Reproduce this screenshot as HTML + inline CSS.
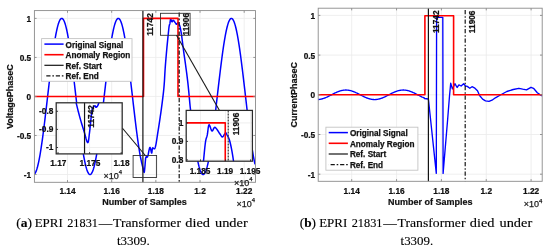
<!DOCTYPE html>
<html><head><meta charset="utf-8"><title>EPRI 21831</title>
<style>
html,body{margin:0;padding:0;background:#fff;}
body{width:550px;height:249px;overflow:hidden;position:relative;}
svg{position:absolute;left:0;top:0;}
.tk{font-family:"Liberation Sans",Arial,sans-serif;font-weight:bold;font-size:8.3px;fill:#111;stroke:#111;stroke-width:0.22px;}
.lg{font-family:"Liberation Sans",Arial,sans-serif;font-weight:bold;font-size:8.2px;fill:#111;stroke:#111;stroke-width:0.25px;}
.lb{font-family:"Liberation Sans",Arial,sans-serif;font-weight:bold;font-size:9px;fill:#111;stroke:#111;stroke-width:0.2px;}
.ex{font-family:"Liberation Sans",Arial,sans-serif;font-size:9px;fill:#1a1a1a;stroke:#1a1a1a;stroke-width:0.25px;}
.sup{font-size:6px;}
.cap{font-family:"Liberation Serif","Times New Roman",serif;font-size:12px;fill:#000;stroke:#000;stroke-width:0.12px;}
</style></head><body>
<svg width="550" height="249" viewBox="0 0 550 249">
<line x1="67.5" y1="10.6" x2="67.5" y2="182.3" stroke="#ebebeb" stroke-width="0.8" />
<line x1="111.68" y1="10.6" x2="111.68" y2="182.3" stroke="#ebebeb" stroke-width="0.8" />
<line x1="155.85" y1="10.6" x2="155.85" y2="182.3" stroke="#ebebeb" stroke-width="0.8" />
<line x1="200.03" y1="10.6" x2="200.03" y2="182.3" stroke="#ebebeb" stroke-width="0.8" />
<line x1="244.2" y1="10.6" x2="244.2" y2="182.3" stroke="#ebebeb" stroke-width="0.8" />
<line x1="34.4" y1="18.4" x2="255.5" y2="18.4" stroke="#ebebeb" stroke-width="0.8" />
<line x1="34.4" y1="57.43" x2="255.5" y2="57.43" stroke="#ebebeb" stroke-width="0.8" />
<line x1="34.4" y1="96.45" x2="255.5" y2="96.45" stroke="#ebebeb" stroke-width="0.8" />
<line x1="34.4" y1="135.47" x2="255.5" y2="135.47" stroke="#ebebeb" stroke-width="0.8" />
<line x1="34.4" y1="174.5" x2="255.5" y2="174.5" stroke="#ebebeb" stroke-width="0.8" />
<clipPath id="cl"><rect x="34.4" y="10.6" width="221.1" height="171.7"/></clipPath>
<g clip-path="url(#cl)">
<polyline points="34.37,174.12 34.81,173.66 35.25,173 35.69,172.16 36.14,171.14 36.58,169.94 37.02,168.56 37.46,167.01 37.9,165.28 38.34,163.4 38.79,161.35 39.23,159.14 39.67,156.78 40.11,154.28 40.55,151.64 40.99,148.87 41.44,145.96 41.88,142.94 42.32,139.81 42.76,136.58 43.2,133.24 43.64,129.82 44.09,126.32 44.53,122.74 44.97,119.11 45.41,115.41 45.85,111.68 46.3,107.9 46.74,104.1 47.18,100.28 47.62,96.45 48.06,92.62 48.5,88.8 48.95,85 49.39,81.22 49.83,77.49 50.27,73.79 50.71,70.16 51.15,66.58 51.6,63.08 52.04,59.66 52.48,56.32 52.92,53.09 53.36,49.96 53.81,46.94 54.25,44.03 54.69,41.26 55.13,38.62 55.57,36.12 56.01,33.76 56.46,31.55 56.9,29.5 57.34,27.62 57.78,25.89 58.22,24.34 58.66,22.96 59.11,21.76 59.55,20.74 59.99,19.9 60.43,19.24 60.87,18.78 61.32,18.49 61.76,18.4 62.2,18.49 62.64,18.78 63.08,19.24 63.52,19.9 63.97,20.74 64.41,21.76 64.85,22.96 65.29,24.34 65.73,25.89 66.17,27.62 66.62,29.5 67.06,31.55 67.5,33.76 67.94,36.12 68.38,38.62 68.83,41.26 69.27,44.03 69.71,46.94 70.15,49.96 70.59,53.09 71.03,56.32 71.48,59.66 71.92,63.08 72.36,66.58 72.8,70.16 73.24,73.79 73.68,77.49 74.13,81.22 74.57,85 75.01,88.8 75.45,92.62 75.89,96.45 76.34,100.28 76.78,104.1 77.22,107.9 77.66,111.68 78.1,115.41 78.54,119.11 78.99,122.74 79.43,126.32 79.87,129.82 80.31,133.24 80.75,136.58 81.19,139.81 81.64,142.94 82.08,145.96 82.52,148.87 82.96,151.64 83.4,154.28 83.85,156.78 84.29,159.14 84.73,161.35 85.17,163.4 85.61,165.28 86.05,167.01 86.5,168.56 86.94,169.94 87.38,171.14 87.82,172.16 88.26,173 88.7,173.66 89.15,174.12 89.59,174.41 90.03,174.5 90.47,174.41 90.91,174.12 91.36,173.66 91.8,173 92.24,172.16 92.68,171.14 93.12,169.94 93.56,168.56 94.01,167.01 94.45,165.28 94.89,163.4 95.33,161.35 95.77,159.14 96.21,156.78 96.66,154.28 97.1,151.64 97.54,148.87 97.98,145.96 98.42,142.94 98.86,139.81 99.31,136.58 99.75,133.24 100.19,129.82 100.63,126.32 101.07,122.74 101.52,119.11 101.96,115.41 102.4,111.68 102.84,107.9 103.28,104.1 103.72,100.28 104.17,96.45 104.61,92.62 105.05,88.8 105.49,85 105.93,81.22 106.37,77.49 106.82,73.79 107.26,70.16 107.7,66.58 108.14,63.08 108.58,59.66 109.03,56.32 109.47,53.09 109.91,49.96 110.35,46.94 110.79,44.03 111.23,41.26 111.68,38.62 112.12,36.12 112.56,33.76 113,31.55 113.44,29.5 113.88,27.62 114.33,25.89 114.77,24.34 115.21,22.96 115.65,21.76 116.09,20.74 116.54,19.9 116.98,19.24 117.42,18.78 117.86,18.49 118.3,18.4 118.74,18.49 119.19,18.78 119.63,19.24 120.07,19.9 120.51,20.74 120.95,21.76 121.39,22.96 121.84,24.34 122.28,25.89 122.72,27.62 123.16,29.5 123.6,31.55 124.05,33.76 124.49,36.12 124.93,38.62 125.37,41.26 125.81,44.03 126.25,46.94 126.7,49.96 127.14,53.09 127.58,56.32 128.02,59.66 128.46,63.08 128.9,66.58 129.35,70.16 129.79,73.79 130.23,77.49 130.67,81.22 131.11,85 131.56,88.8 132,92.62 132.44,96.45 132.88,100.28 133.32,104.1 133.76,107.9 134.21,111.68 134.65,115.41 135.09,119.11 135.53,122.74 135.97,126.32 136.41,129.82 136.86,133.24 137.3,136.58 137.74,139.81 138.18,142.94 138.62,145.96 139.07,148.87 139.51,151.64 139.95,154.28 140.17,155.55 140.37,156.57 140.58,157.64 140.81,158.75 141.05,159.87 141.28,160.96 141.52,162.01 141.75,163.03 141.99,164.03 142.23,165.02 142.47,165.97 142.71,166.9 142.93,167.79 143.15,168.73 143.37,169.75 143.58,170.74 143.79,171.58 143.98,172.17 144.15,172.39 144.29,172.21 144.4,171.7 144.5,170.93 144.6,169.98 144.7,168.91 144.81,167.79 144.93,166.47 145.07,164.88 145.2,163.17 145.34,161.49 145.47,160.02 145.58,158.89 145.68,158.16 145.77,157.69 145.86,157.43 145.94,157.28 146.02,157.17 146.11,157.02 146.21,156.84 146.32,156.72 146.43,156.63 146.54,156.57 146.64,156.55 146.73,156.55 146.8,156.62 146.85,156.76 146.9,156.94 146.95,157.1 147.02,157.19 147.11,157.17 147.21,157.1 147.32,157.01 147.45,156.86 147.6,156.58 147.78,156.13 147.99,155.46 148.25,154.32 148.55,152.74 148.88,150.98 149.23,149.32 149.57,148.04 149.89,147.42 150.2,147.69 150.52,148.67 150.84,150.04 151.14,151.45 151.41,152.56 151.66,153.04 151.84,152.74 151.97,151.92 152.08,150.8 152.2,149.62 152.34,148.59 152.54,147.96 152.81,147.81 153.14,147.96 153.51,148.28 153.87,148.61 154.22,148.82 154.53,148.74 154.78,148.45 155,148.05 155.2,147.52 155.4,146.84 155.61,145.95 155.85,144.84 156.1,143.55 156.35,142.12 156.61,140.5 156.9,138.63 157.23,136.45 157.62,133.91 158.09,130.93 158.62,127.52 159.2,123.81 159.8,119.91 160.38,115.96 160.93,112.06 161.47,108.13 162.01,104.06 162.54,99.93 163.04,95.82 163.5,91.82 163.89,88.02 164.2,84.43 164.44,80.97 164.63,77.63 164.81,74.37 164.99,71.17 165.2,68 165.43,64.86 165.68,61.76 165.93,58.73 166.19,55.75 166.44,52.84 166.7,50.01 166.96,47.19 167.23,44.37 167.5,41.62 167.76,39.01 168,36.6 168.22,34.48 168.41,32.65 168.57,31.06 168.71,29.67 168.84,28.47 168.97,27.4 169.1,26.44 169.24,25.67 169.38,25.12 169.51,24.72 169.64,24.37 169.77,23.99 169.9,23.47 170.02,22.75 170.13,21.88 170.24,20.98 170.36,20.15 170.49,19.51 170.65,19.18 170.84,19.27 171.05,19.71 171.28,20.34 171.51,21 171.75,21.56 171.98,21.83 172.19,21.77 172.39,21.46 172.58,21.04 172.79,20.63 173.03,20.33 173.3,20.27 173.63,20.51 174.01,20.94 174.42,21.5 174.82,22.1 175.2,22.65 175.51,23.08 175.76,23.42 175.95,23.72 176.12,23.99 176.27,24.19 176.43,24.31 176.61,24.33 176.83,24.19 177.06,23.88 177.3,23.5 177.54,23.11 177.75,22.79 177.94,22.61 178.08,22.58 178.19,22.63 178.27,22.75 178.36,22.94 178.46,23.18 178.6,23.47 178.78,23.79 178.99,24.12 179.21,24.51 179.45,25 179.69,25.63 179.93,26.44 180.17,27.4 180.41,28.47 180.66,29.67 180.92,31.06 181.19,32.65 181.47,34.48 181.77,36.6 182.08,39.01 182.41,41.62 182.74,44.37 183.09,47.19 183.46,50.01 183.86,52.87 184.28,55.84 184.72,58.87 185.16,61.94 185.59,65.01 186,68.04 186.39,71.01 186.78,73.95 187.15,76.89 187.51,79.86 187.87,82.88 188.21,85.99 188.55,89.35 188.9,92.97 189.23,96.65 189.55,100.18 189.84,103.37 190.09,106 190.53,109.79 190.97,113.55 191.41,117.27 191.86,120.93 192.3,124.54 192.74,128.08 193.18,131.54 193.62,134.92 194.06,138.21 194.51,141.39 194.95,144.47 195.39,147.43 195.83,150.27 196.27,152.98 196.71,155.55 197.16,157.98 197.6,160.26 198.04,162.39 198.48,164.36 198.92,166.17 199.37,167.8 199.81,169.27 200.25,170.56 200.69,171.67 201.13,172.6 201.57,173.35 202.02,173.91 202.46,174.29 202.9,174.48 203.34,174.48 203.78,174.29 204.22,173.91 204.67,173.35 205.11,172.6 205.55,171.67 205.99,170.56 206.43,169.27 206.88,167.8 207.32,166.17 207.76,164.36 208.2,162.39 208.64,160.26 209.08,157.98 209.53,155.55 209.97,152.98 210.41,150.27 210.85,147.43 211.29,144.47 211.73,141.39 212.18,138.21 212.62,134.92 213.06,131.54 213.5,128.08 213.94,124.54 214.39,120.93 214.83,117.27 215.27,113.55 215.71,109.79 216.15,106 216.59,102.19 217.04,98.37 217.48,94.53 217.92,90.71 218.36,86.9 218.8,83.11 219.24,79.35 219.69,75.63 220.13,71.97 220.57,68.36 221.01,64.82 221.45,61.36 221.9,57.98 222.34,54.69 222.78,51.51 223.22,48.43 223.66,45.47 224.1,42.63 224.55,39.92 224.99,37.35 225.43,34.92 225.87,32.64 226.31,30.51 226.75,28.54 227.2,26.73 227.64,25.1 228.08,23.63 228.52,22.34 228.96,21.23 229.41,20.3 229.85,19.55 230.29,18.99 230.73,18.61 231.17,18.42 231.61,18.42 232.06,18.61 232.5,18.99 232.94,19.55 233.38,20.3 233.82,21.23 234.26,22.34 234.71,23.63 235.15,25.1 235.59,26.73 236.03,28.54 236.47,30.51 236.91,32.64 237.36,34.92 237.8,37.35 238.24,39.92 238.68,42.63 239.12,45.47 239.57,48.43 240.01,51.51 240.45,54.69 240.89,57.98 241.33,61.36 241.77,64.82 242.22,68.36 242.66,71.97 243.1,75.63 243.54,79.35 243.98,83.11 244.42,86.9 244.87,90.71 245.31,94.53 245.75,98.37 246.19,102.19 246.63,106 247.08,109.79 247.52,113.55 247.96,117.27 248.4,120.93 248.84,124.54 249.28,128.08 249.73,131.54 250.17,134.92 250.61,138.21 251.05,141.39 251.49,144.47 251.93,147.43 252.38,150.27 252.82,152.98 253.26,155.55 253.7,157.98 254.14,160.26 254.59,162.39 255.03,164.36" fill="none" stroke="#0000ff" stroke-width="1.5" stroke-linejoin="round" />
<polyline points="34.4,96.45 143.5,96.45 143.5,18.4 178,18.4 178,96.45 255.5,96.45" fill="none" stroke="#ff0000" stroke-width="1.6" stroke-linejoin="round" stroke-linejoin="miter"/>
</g>
<line x1="142.9" y1="10.6" x2="142.9" y2="182.3" stroke="#141414" stroke-width="1.2" />
<line x1="179.2" y1="10.6" x2="179.2" y2="182.3" stroke="#141414" stroke-width="1.2" stroke-dasharray="4.2,1.85,1.6,1.85" stroke-dashoffset="7.6"/>
<rect x="34.4" y="10.6" width="221.1" height="171.7" fill="none" stroke="#8a8a8a" stroke-width="0.9" />
<line x1="67.5" y1="182.3" x2="67.5" y2="180.1" stroke="#8a8a8a" stroke-width="0.9" />
<line x1="67.5" y1="10.6" x2="67.5" y2="12.8" stroke="#8a8a8a" stroke-width="0.9" />
<line x1="111.68" y1="182.3" x2="111.68" y2="180.1" stroke="#8a8a8a" stroke-width="0.9" />
<line x1="111.68" y1="10.6" x2="111.68" y2="12.8" stroke="#8a8a8a" stroke-width="0.9" />
<line x1="155.85" y1="182.3" x2="155.85" y2="180.1" stroke="#8a8a8a" stroke-width="0.9" />
<line x1="155.85" y1="10.6" x2="155.85" y2="12.8" stroke="#8a8a8a" stroke-width="0.9" />
<line x1="200.03" y1="182.3" x2="200.03" y2="180.1" stroke="#8a8a8a" stroke-width="0.9" />
<line x1="200.03" y1="10.6" x2="200.03" y2="12.8" stroke="#8a8a8a" stroke-width="0.9" />
<line x1="244.2" y1="182.3" x2="244.2" y2="180.1" stroke="#8a8a8a" stroke-width="0.9" />
<line x1="244.2" y1="10.6" x2="244.2" y2="12.8" stroke="#8a8a8a" stroke-width="0.9" />
<line x1="34.4" y1="18.4" x2="36.6" y2="18.4" stroke="#8a8a8a" stroke-width="0.9" />
<line x1="255.5" y1="18.4" x2="253.3" y2="18.4" stroke="#8a8a8a" stroke-width="0.9" />
<line x1="34.4" y1="57.43" x2="36.6" y2="57.43" stroke="#8a8a8a" stroke-width="0.9" />
<line x1="255.5" y1="57.43" x2="253.3" y2="57.43" stroke="#8a8a8a" stroke-width="0.9" />
<line x1="34.4" y1="96.45" x2="36.6" y2="96.45" stroke="#8a8a8a" stroke-width="0.9" />
<line x1="255.5" y1="96.45" x2="253.3" y2="96.45" stroke="#8a8a8a" stroke-width="0.9" />
<line x1="34.4" y1="135.47" x2="36.6" y2="135.47" stroke="#8a8a8a" stroke-width="0.9" />
<line x1="255.5" y1="135.47" x2="253.3" y2="135.47" stroke="#8a8a8a" stroke-width="0.9" />
<line x1="34.4" y1="174.5" x2="36.6" y2="174.5" stroke="#8a8a8a" stroke-width="0.9" />
<line x1="255.5" y1="174.5" x2="253.3" y2="174.5" stroke="#8a8a8a" stroke-width="0.9" />
<text x="67.5" y="193.8" class="tk" text-anchor="middle" >1.14</text>
<text x="111.68" y="193.8" class="tk" text-anchor="middle" >1.16</text>
<text x="155.85" y="193.8" class="tk" text-anchor="middle" >1.18</text>
<text x="200.03" y="193.8" class="tk" text-anchor="middle" >1.2</text>
<text x="244.2" y="193.8" class="tk" text-anchor="middle" >1.22</text>
<text x="31.2" y="21.9" class="tk" text-anchor="end" >1</text>
<text x="31.2" y="60.93" class="tk" text-anchor="end" >0.5</text>
<text x="31.2" y="99.95" class="tk" text-anchor="end" >0</text>
<text x="31.2" y="138.97" class="tk" text-anchor="end" >-0.5</text>
<text x="31.2" y="178" class="tk" text-anchor="end" >-1</text>
<text x="144.5" y="204.6" class="lb" text-anchor="middle" >Number of Samples</text>
<text x="13" y="96.6" class="lb" text-anchor="middle" transform="rotate(-90 13.0 96.6)">VoltagePhaseC</text>
<text x="255.1" y="206.8" class="ex" text-anchor="end">&#215;10<tspan class="sup" dy="-4.4">4</tspan></text>
<text x="153.4" y="24.5" class="tk" text-anchor="middle" transform="rotate(-90 153.4 24.5)">11742</text>
<rect x="160.5" y="13.3" width="29.6" height="22" fill="none" stroke="#333" stroke-width="0.9" />
<text x="189.3" y="24.2" class="tk" text-anchor="middle" transform="rotate(-90 189.3 24.2)">11906</text>
<line x1="176.5" y1="35.3" x2="219.5" y2="110.4" stroke="#1a1a1a" stroke-width="1.1" />
<rect x="133.1" y="155.5" width="23.5" height="22" fill="none" stroke="#333" stroke-width="0.9" />
<line x1="122.3" y1="128" x2="145.3" y2="155.5" stroke="#1a1a1a" stroke-width="1.1" />
<rect x="41.6" y="38.6" width="90.4" height="42.7" fill="#fff" stroke="#c4c4c4" stroke-width="0.9" />
<line x1="44.4" y1="44.1" x2="63.6" y2="44.1" stroke="#0000ff" stroke-width="1.5" />
<text x="65.6" y="47.5" class="lg" text-anchor="start" >Original Signal</text>
<line x1="44.4" y1="54.7" x2="63.6" y2="54.7" stroke="#ff0000" stroke-width="1.6" />
<text x="65.6" y="58.1" class="lg" text-anchor="start" >Anomaly Region</text>
<line x1="44.4" y1="65.3" x2="63.6" y2="65.3" stroke="#141414" stroke-width="1.2" />
<text x="65.6" y="68.7" class="lg" text-anchor="start" >Ref. Start</text>
<line x1="44.4" y1="75.9" x2="63.6" y2="75.9" stroke="#141414" stroke-width="1.2" stroke-dasharray="4.2,1.85,1.6,1.85" stroke-dashoffset="7.6"/>
<text x="65.6" y="79.3" class="lg" text-anchor="start" >Ref. End</text>
<rect x="56.2" y="102.8" width="66" height="51.1" fill="#fff" stroke="none" stroke-width="1" />
<line x1="58" y1="102.8" x2="58" y2="153.9" stroke="#ebebeb" stroke-width="0.8" />
<line x1="89.6" y1="102.8" x2="89.6" y2="153.9" stroke="#ebebeb" stroke-width="0.8" />
<line x1="121.2" y1="102.8" x2="121.2" y2="153.9" stroke="#ebebeb" stroke-width="0.8" />
<line x1="56.2" y1="111.3" x2="122.2" y2="111.3" stroke="#ebebeb" stroke-width="0.8" />
<line x1="56.2" y1="129.4" x2="122.2" y2="129.4" stroke="#ebebeb" stroke-width="0.8" />
<line x1="56.2" y1="147.5" x2="122.2" y2="147.5" stroke="#ebebeb" stroke-width="0.8" />
<clipPath id="ca"><rect x="56.2" y="102.8" width="66" height="51.1"/></clipPath>
<g clip-path="url(#ca)">
<polyline points="51.68,-51.24 52.31,-46.82 52.94,-42.38 53.58,-37.94 54.21,-33.5 54.84,-29.06 55.47,-24.62 56.1,-20.18 56.74,-15.76 57.37,-11.34 58,-6.94 58.63,-2.56 59.26,1.81 59.9,6.16 60.53,10.48 61.16,14.78 61.79,19.04 62.42,23.28 63.06,27.48 63.69,31.64 64.32,35.77 64.95,39.85 65.58,43.89 66.22,47.88 66.85,51.82 67.48,55.71 68.11,59.55 68.74,63.33 69.38,67.06 70.01,70.72 70.64,74.32 71.27,77.86 71.9,81.33 72.54,84.72 73.17,88.05 73.8,91.31 74.43,94.49 75.06,97.59 75.7,100.61 76.33,103.55 76.89,105.91 77.51,108.41 78.16,110.98 78.83,113.56 79.51,116.1 80.18,118.54 80.85,120.9 81.54,123.22 82.23,125.51 82.91,127.73 83.58,129.88 84.23,131.93 84.86,134.12 85.49,136.49 86.1,138.78 86.68,140.74 87.22,142.1 87.7,142.61 88.11,142.18 88.44,141 88.73,139.23 89,137.02 89.28,134.54 89.6,131.93 89.96,128.88 90.34,125.19 90.73,121.22 91.11,117.34 91.48,113.91 91.81,111.3 92.1,109.6 92.36,108.52 92.6,107.91 92.83,107.56 93.07,107.3 93.33,106.96 93.62,106.56 93.93,106.26 94.24,106.05 94.55,105.92 94.84,105.87 95.1,105.87 95.3,106.03 95.45,106.37 95.59,106.77 95.73,107.14 95.92,107.36 96.17,107.32 96.48,107.14 96.8,106.94 97.16,106.58 97.59,105.95 98.09,104.91 98.7,103.34 99.44,100.71 100.31,97.03 101.26,92.95 102.24,89.1 103.22,86.14 104.14,84.69 105.03,85.32 105.94,87.61 106.85,90.78 107.71,94.04 108.5,96.62 109.19,97.72 109.72,97.04 110.1,95.14 110.42,92.54 110.74,89.79 111.15,87.42 111.72,85.96 112.51,85.6 113.45,85.96 114.48,86.7 115.54,87.47 116.53,87.94 117.41,87.77 118.14,87.08 118.77,86.16 119.34,84.94 119.91,83.35 120.52,81.3 121.2,78.72 121.92,75.73 122.63,72.42 123.37,68.65 124.2,64.31 125.14,59.26 126.26,53.38" fill="none" stroke="#0000ff" stroke-width="1.5" stroke-linejoin="round" />
</g>
<line x1="84.54" y1="102.8" x2="84.54" y2="153.9" stroke="#141414" stroke-width="1.2" />
<text x="93.9" y="116.4" class="tk" text-anchor="middle" transform="rotate(-90 93.9 116.4)">11742</text>
<rect x="56.2" y="102.8" width="66" height="51.1" fill="none" stroke="#2a2a2a" stroke-width="1.25" />
<line x1="58" y1="153.9" x2="58" y2="152.1" stroke="#2a2a2a" stroke-width="0.9" />
<line x1="89.6" y1="153.9" x2="89.6" y2="152.1" stroke="#2a2a2a" stroke-width="0.9" />
<line x1="121.2" y1="153.9" x2="121.2" y2="152.1" stroke="#2a2a2a" stroke-width="0.9" />
<line x1="56.2" y1="111.3" x2="58" y2="111.3" stroke="#2a2a2a" stroke-width="0.9" />
<line x1="56.2" y1="129.4" x2="58" y2="129.4" stroke="#2a2a2a" stroke-width="0.9" />
<line x1="56.2" y1="147.5" x2="58" y2="147.5" stroke="#2a2a2a" stroke-width="0.9" />
<text x="58.3" y="166.3" class="tk" text-anchor="middle" >1.17</text>
<text x="89.9" y="166.3" class="tk" text-anchor="middle" >1.175</text>
<text x="121.5" y="166.3" class="tk" text-anchor="middle" >1.18</text>
<text x="53.3" y="114.2" class="tk" text-anchor="end" >-0.8</text>
<text x="53.3" y="132.3" class="tk" text-anchor="end" >-0.9</text>
<text x="53.3" y="150.4" class="tk" text-anchor="end" >-1</text>
<text x="122.2" y="178.8" class="ex" text-anchor="end">&#215;10<tspan class="sup" dy="-4.4">4</tspan></text>
<rect x="186.2" y="110.4" width="66.2" height="50.8" fill="#fff" stroke="none" stroke-width="1" />
<line x1="200.5" y1="110.4" x2="200.5" y2="161.2" stroke="#ebebeb" stroke-width="0.8" />
<line x1="225.5" y1="110.4" x2="225.5" y2="161.2" stroke="#ebebeb" stroke-width="0.8" />
<line x1="250.5" y1="110.4" x2="250.5" y2="161.2" stroke="#ebebeb" stroke-width="0.8" />
<line x1="186.2" y1="159.9" x2="252.4" y2="159.9" stroke="#ebebeb" stroke-width="0.8" />
<line x1="186.2" y1="141.4" x2="252.4" y2="141.4" stroke="#ebebeb" stroke-width="0.8" />
<line x1="186.2" y1="122.9" x2="252.4" y2="122.9" stroke="#ebebeb" stroke-width="0.8" />
<clipPath id="cb"><rect x="186.2" y="110.4" width="66.2" height="50.8"/></clipPath>
<g clip-path="url(#cb)">
<polyline points="183.08,372.74 184.43,363.51 185.76,354.13 187,344.9 188.21,335.59 189.43,325.94 190.63,316.14 191.77,306.4 192.81,296.93 193.7,287.92 194.4,279.4 194.94,271.22 195.38,263.3 195.77,255.58 196.18,247.99 196.65,240.47 197.19,233.01 197.75,225.68 198.32,218.48 198.9,211.43 199.48,204.54 200.05,197.83 200.64,191.15 201.25,184.46 201.86,177.94 202.46,171.75 203.01,166.05 203.5,161.01 203.92,156.67 204.28,152.9 204.6,149.62 204.9,146.76 205.2,144.23 205.5,141.96 205.81,140.12 206.12,138.84 206.42,137.89 206.71,137.06 207.01,136.14 207.3,134.92 207.57,133.22 207.83,131.16 208.08,129.01 208.34,127.04 208.64,125.53 209,124.75 209.42,124.96 209.9,126 210.42,127.49 210.95,129.07 211.48,130.38 212,131.04 212.48,130.88 212.93,130.16 213.38,129.17 213.85,128.18 214.38,127.47 215,127.34 215.75,127.89 216.61,128.93 217.53,130.25 218.44,131.67 219.29,132.98 220,134 220.56,134.79 221,135.52 221.38,136.15 221.72,136.63 222.08,136.92 222.5,136.96 222.99,136.62 223.52,135.9 224.06,134.98 224.59,134.05 225.08,133.3 225.5,132.89 225.82,132.82 226.06,132.93 226.25,133.21 226.44,133.65 226.68,134.23 227,134.92 227.41,135.67 227.87,136.45 228.38,137.38 228.91,138.54 229.45,140.03 230,141.96 230.54,144.23 231.09,146.76 231.66,149.62 232.24,152.9 232.85,156.67 233.5,161.01 234.18,166.05 234.88,171.75 235.61,177.94 236.37,184.46 237.17,191.14 238,197.83 238.89,204.61 239.85,211.64 240.84,218.83 241.84,226.11 242.82,233.38 243.75,240.56 244.64,247.61 245.5,254.58 246.34,261.54 247.17,268.57 247.97,275.74 248.75,283.11 249.53,291.08 250.31,299.65 251.06,308.37 251.78,316.74 252.43,324.29 253,330.55 253.5,335.05 254,339.53 254.5,343.99 255,348.43 255.5,352.85" fill="none" stroke="#0000ff" stroke-width="1.5" stroke-linejoin="round" />
<polyline points="184.2,122.9 225.25,122.9 225.25,163.2" fill="none" stroke="#ff0000" stroke-width="1.6" stroke-linejoin="round" stroke-linejoin="miter"/>
<line x1="228.25" y1="110.4" x2="228.25" y2="161.2" stroke="#444" stroke-width="1.3" stroke-dasharray="2,1"/>
</g>
<text x="238.5" y="124" class="tk" text-anchor="middle" transform="rotate(-90 238.5 124.0)">11906</text>
<rect x="186.2" y="110.4" width="66.2" height="50.8" fill="none" stroke="#2a2a2a" stroke-width="1.25" />
<line x1="200.5" y1="161.2" x2="200.5" y2="159.4" stroke="#2a2a2a" stroke-width="0.9" />
<line x1="225.5" y1="161.2" x2="225.5" y2="159.4" stroke="#2a2a2a" stroke-width="0.9" />
<line x1="250.5" y1="161.2" x2="250.5" y2="159.4" stroke="#2a2a2a" stroke-width="0.9" />
<line x1="186.2" y1="159.9" x2="188" y2="159.9" stroke="#2a2a2a" stroke-width="0.9" />
<line x1="186.2" y1="141.4" x2="188" y2="141.4" stroke="#2a2a2a" stroke-width="0.9" />
<line x1="186.2" y1="122.9" x2="188" y2="122.9" stroke="#2a2a2a" stroke-width="0.9" />
<text x="200.1" y="173.5" class="tk" text-anchor="middle" >1.185</text>
<text x="225.1" y="173.5" class="tk" text-anchor="middle" >1.19</text>
<text x="250.1" y="173.5" class="tk" text-anchor="middle" >1.195</text>
<text x="183.3" y="162.8" class="tk" text-anchor="end" >0.8</text>
<text x="183.3" y="144.3" class="tk" text-anchor="end" >0.9</text>
<text x="183.3" y="125.8" class="tk" text-anchor="end" >1</text>
<text x="252.6" y="185.8" class="ex" text-anchor="end">&#215;10<tspan class="sup" dy="-4.4">4</tspan></text>
<line x1="351.7" y1="8.2" x2="351.7" y2="181.3" stroke="#ebebeb" stroke-width="0.8" />
<line x1="396.55" y1="8.2" x2="396.55" y2="181.3" stroke="#ebebeb" stroke-width="0.8" />
<line x1="441.4" y1="8.2" x2="441.4" y2="181.3" stroke="#ebebeb" stroke-width="0.8" />
<line x1="486.25" y1="8.2" x2="486.25" y2="181.3" stroke="#ebebeb" stroke-width="0.8" />
<line x1="531.1" y1="8.2" x2="531.1" y2="181.3" stroke="#ebebeb" stroke-width="0.8" />
<line x1="318.2" y1="15.4" x2="542.2" y2="15.4" stroke="#ebebeb" stroke-width="0.8" />
<line x1="318.2" y1="55.1" x2="542.2" y2="55.1" stroke="#ebebeb" stroke-width="0.8" />
<line x1="318.2" y1="94.8" x2="542.2" y2="94.8" stroke="#ebebeb" stroke-width="0.8" />
<line x1="318.2" y1="134.5" x2="542.2" y2="134.5" stroke="#ebebeb" stroke-width="0.8" />
<line x1="318.2" y1="174.2" x2="542.2" y2="174.2" stroke="#ebebeb" stroke-width="0.8" />
<clipPath id="cr"><rect x="318.2" y="8.2" width="224" height="173.1"/></clipPath>
<g clip-path="url(#cr)">
<polyline points="318.06,99.54 318.51,99.51 318.96,99.47 319.41,99.42 319.86,99.36 320.31,99.29 320.75,99.2 321.2,99.11 321.65,99 322.1,98.89 322.55,98.76 323,98.63 323.44,98.48 323.89,98.33 324.34,98.17 324.79,98 325.24,97.82 325.69,97.64 326.14,97.45 326.58,97.25 327.03,97.05 327.48,96.84 327.93,96.62 328.38,96.4 328.83,96.18 329.27,95.96 329.72,95.73 330.17,95.5 330.62,95.27 331.07,95.03 331.52,94.8 331.97,94.57 332.41,94.33 332.86,94.1 333.31,93.87 333.76,93.64 334.21,93.42 334.66,93.2 335.11,92.98 335.55,92.76 336,92.55 336.45,92.35 336.9,92.15 337.35,91.96 337.8,91.78 338.25,91.6 338.69,91.43 339.14,91.27 339.59,91.12 340.04,90.97 340.49,90.84 340.94,90.71 341.38,90.6 341.83,90.49 342.28,90.4 342.73,90.31 343.18,90.24 343.63,90.18 344.08,90.13 344.52,90.09 344.97,90.06 345.42,90.04 345.87,90.04 346.32,90.04 346.77,90.06 347.21,90.09 347.66,90.13 348.11,90.18 348.56,90.24 349.01,90.31 349.46,90.4 349.91,90.49 350.35,90.6 350.8,90.71 351.25,90.84 351.7,90.97 352.15,91.12 352.6,91.27 353.05,91.43 353.49,91.6 353.94,91.78 354.39,91.96 354.84,92.15 355.29,92.35 355.74,92.55 356.19,92.76 356.63,92.98 357.08,93.2 357.53,93.42 357.98,93.64 358.43,93.87 358.88,94.1 359.32,94.33 359.77,94.57 360.22,94.8 360.67,95.03 361.12,95.27 361.57,95.5 362.02,95.73 362.46,95.96 362.91,96.18 363.36,96.4 363.81,96.62 364.26,96.84 364.71,97.05 365.15,97.25 365.6,97.45 366.05,97.64 366.5,97.82 366.95,98 367.4,98.17 367.85,98.33 368.29,98.48 368.74,98.63 369.19,98.76 369.64,98.89 370.09,99 370.54,99.11 370.99,99.2 371.43,99.29 371.88,99.36 372.33,99.42 372.78,99.47 373.23,99.51 373.68,99.54 374.12,99.56 374.57,99.56 375.02,99.56 375.47,99.54 375.92,99.51 376.37,99.47 376.82,99.42 377.26,99.36 377.71,99.29 378.16,99.2 378.61,99.11 379.06,99 379.51,98.89 379.96,98.76 380.4,98.63 380.85,98.48 381.3,98.33 381.75,98.17 382.2,98 382.65,97.82 383.09,97.64 383.54,97.45 383.99,97.25 384.44,97.05 384.89,96.84 385.34,96.62 385.79,96.4 386.23,96.18 386.68,95.96 387.13,95.73 387.58,95.5 388.03,95.27 388.48,95.03 388.93,94.8 389.37,94.57 389.82,94.33 390.27,94.1 390.72,93.87 391.17,93.64 391.62,93.42 392.06,93.2 392.51,92.98 392.96,92.76 393.41,92.55 393.86,92.35 394.31,92.15 394.76,91.96 395.2,91.78 395.65,91.6 396.1,91.43 396.55,91.27 397,91.12 397.45,90.97 397.9,90.84 398.34,90.71 398.79,90.6 399.24,90.49 399.69,90.4 400.14,90.31 400.59,90.24 401.03,90.18 401.48,90.13 401.93,90.09 402.38,90.06 402.83,90.04 403.28,90.04 403.73,90.04 404.17,90.06 404.62,90.09 405.07,90.13 405.52,90.18 405.97,90.24 406.42,90.31 406.87,90.4 407.31,90.49 407.76,90.6 408.21,90.71 408.66,90.84 409.11,90.97 409.56,91.12 410,91.27 410.45,91.43 410.9,91.6 411.35,91.78 411.8,91.96 412.25,92.15 412.7,92.35 413.14,92.55 413.59,92.76 414.04,92.98 414.49,93.2 414.94,93.42 415.39,93.64 415.84,93.87 416.28,94.1 416.73,94.33 417.18,94.57 417.63,94.8 418.08,95.03 418.53,95.27 418.98,95.5 419.42,95.73 419.87,95.96 420.32,96.18 420.77,96.4 421.22,96.62 421.67,96.84 422.11,97.05 422.56,97.25 423.01,97.45 423.46,97.64 423.91,97.82 424.36,98 424.4,98.5 428.4,99 436.3,173.4 436.6,17.3 442.8,17.3 443.1,173.4 447.6,120 449.5,96 450.7,83.2 452.4,88.9 454.9,83.7 457.1,87.5 458.9,84.9 461.1,86 463.6,83.7 465.5,86 467.3,86.4 469.8,88.2 472,86.7 474.9,88.2 477.5,90.7 479.6,95.5 482.6,99.1 485.5,100.8 489,101.4 492,100.2 495.4,97.8 500.4,95 506.8,91.5 513.2,89.5 518.9,88.3 522.7,89.2 526.5,89.9 531,87.3 533.5,88.3 537.3,92.7 541.8,95.9" fill="none" stroke="#0000ff" stroke-width="1.35" stroke-linejoin="round" />
<polyline points="318.2,94.8 424.9,94.8 424.9,15.8 453.6,15.8 453.6,94.8 542.2,94.8" fill="none" stroke="#ff0000" stroke-width="1.6" stroke-linejoin="round" stroke-linejoin="miter"/>
</g>
<line x1="428.4" y1="8.2" x2="428.4" y2="181.3" stroke="#141414" stroke-width="1.2" />
<line x1="465.2" y1="8.2" x2="465.2" y2="181.3" stroke="#141414" stroke-width="1.2" stroke-dasharray="4.2,1.85,1.6,1.85" stroke-dashoffset="7.6"/>
<rect x="318.2" y="8.2" width="224" height="173.1" fill="none" stroke="#8a8a8a" stroke-width="0.9" />
<line x1="351.7" y1="181.3" x2="351.7" y2="179.1" stroke="#8a8a8a" stroke-width="0.9" />
<line x1="351.7" y1="8.2" x2="351.7" y2="10.4" stroke="#8a8a8a" stroke-width="0.9" />
<line x1="396.55" y1="181.3" x2="396.55" y2="179.1" stroke="#8a8a8a" stroke-width="0.9" />
<line x1="396.55" y1="8.2" x2="396.55" y2="10.4" stroke="#8a8a8a" stroke-width="0.9" />
<line x1="441.4" y1="181.3" x2="441.4" y2="179.1" stroke="#8a8a8a" stroke-width="0.9" />
<line x1="441.4" y1="8.2" x2="441.4" y2="10.4" stroke="#8a8a8a" stroke-width="0.9" />
<line x1="486.25" y1="181.3" x2="486.25" y2="179.1" stroke="#8a8a8a" stroke-width="0.9" />
<line x1="486.25" y1="8.2" x2="486.25" y2="10.4" stroke="#8a8a8a" stroke-width="0.9" />
<line x1="531.1" y1="181.3" x2="531.1" y2="179.1" stroke="#8a8a8a" stroke-width="0.9" />
<line x1="531.1" y1="8.2" x2="531.1" y2="10.4" stroke="#8a8a8a" stroke-width="0.9" />
<line x1="318.2" y1="15.4" x2="320.4" y2="15.4" stroke="#8a8a8a" stroke-width="0.9" />
<line x1="542.2" y1="15.4" x2="540" y2="15.4" stroke="#8a8a8a" stroke-width="0.9" />
<line x1="318.2" y1="55.1" x2="320.4" y2="55.1" stroke="#8a8a8a" stroke-width="0.9" />
<line x1="542.2" y1="55.1" x2="540" y2="55.1" stroke="#8a8a8a" stroke-width="0.9" />
<line x1="318.2" y1="94.8" x2="320.4" y2="94.8" stroke="#8a8a8a" stroke-width="0.9" />
<line x1="542.2" y1="94.8" x2="540" y2="94.8" stroke="#8a8a8a" stroke-width="0.9" />
<line x1="318.2" y1="134.5" x2="320.4" y2="134.5" stroke="#8a8a8a" stroke-width="0.9" />
<line x1="542.2" y1="134.5" x2="540" y2="134.5" stroke="#8a8a8a" stroke-width="0.9" />
<line x1="318.2" y1="174.2" x2="320.4" y2="174.2" stroke="#8a8a8a" stroke-width="0.9" />
<line x1="542.2" y1="174.2" x2="540" y2="174.2" stroke="#8a8a8a" stroke-width="0.9" />
<text x="351.7" y="193.6" class="tk" text-anchor="middle" >1.14</text>
<text x="396.55" y="193.6" class="tk" text-anchor="middle" >1.16</text>
<text x="441.4" y="193.6" class="tk" text-anchor="middle" >1.18</text>
<text x="486.25" y="193.6" class="tk" text-anchor="middle" >1.2</text>
<text x="531.1" y="193.6" class="tk" text-anchor="middle" >1.22</text>
<text x="315.2" y="19" class="tk" text-anchor="end" >1</text>
<text x="315.2" y="58.7" class="tk" text-anchor="end" >0.5</text>
<text x="315.2" y="98.4" class="tk" text-anchor="end" >0</text>
<text x="315.2" y="138.1" class="tk" text-anchor="end" >-0.5</text>
<text x="315.2" y="177.8" class="tk" text-anchor="end" >-1</text>
<text x="430.2" y="204.6" class="lb" text-anchor="middle" >Number of Samples</text>
<text x="296.9" y="94.8" class="lb" text-anchor="middle" transform="rotate(-90 296.9 94.8)">CurrentPhaseC</text>
<text x="542.3" y="206.9" class="ex" text-anchor="end">&#215;10<tspan class="sup" dy="-4.4">4</tspan></text>
<text x="438.8" y="21.8" class="tk" text-anchor="middle" transform="rotate(-90 438.8 21.8)">11742</text>
<text x="475.2" y="21.8" class="tk" text-anchor="middle" transform="rotate(-90 475.2 21.8)">11906</text>
<rect x="325.9" y="127.2" width="92" height="43" fill="#fff" stroke="#c4c4c4" stroke-width="0.9" />
<line x1="328.7" y1="132.6" x2="347.9" y2="132.6" stroke="#0000ff" stroke-width="1.5" />
<text x="349.9" y="136" class="lg" text-anchor="start" >Original Signal</text>
<line x1="328.7" y1="143.3" x2="347.9" y2="143.3" stroke="#ff0000" stroke-width="1.6" />
<text x="349.9" y="146.7" class="lg" text-anchor="start" >Anomaly Region</text>
<line x1="328.7" y1="154" x2="347.9" y2="154" stroke="#141414" stroke-width="1.2" />
<text x="349.9" y="157.4" class="lg" text-anchor="start" >Ref. Start</text>
<line x1="328.7" y1="164.7" x2="347.9" y2="164.7" stroke="#141414" stroke-width="1.2" stroke-dasharray="4.2,1.85,1.6,1.85" stroke-dashoffset="7.6"/>
<text x="349.9" y="168.1" class="lg" text-anchor="start" >Ref. End</text>
<text x="16.25" y="226.7" class="cap" textLength="15.75" lengthAdjust="spacingAndGlyphs">(<tspan font-weight="bold">a</tspan>)</text>
<text x="299.75" y="226.7" class="cap" textLength="16.25" lengthAdjust="spacingAndGlyphs">(<tspan font-weight="bold">b</tspan>)</text>
<text x="34.65" y="226.7" class="cap" textLength="28.1" lengthAdjust="spacingAndGlyphs">EPRI</text>
<text x="319.15" y="226.7" class="cap" textLength="28.1" lengthAdjust="spacingAndGlyphs">EPRI</text>
<text x="67.2" y="226.7" class="cap" textLength="30.75" lengthAdjust="spacingAndGlyphs">21831</text>
<text x="351.7" y="226.7" class="cap" textLength="30.75" lengthAdjust="spacingAndGlyphs">21831</text>
<text x="98.75" y="226.7" class="cap" textLength="13.55" lengthAdjust="spacingAndGlyphs">&#8212;</text>
<text x="383.25" y="226.7" class="cap" textLength="13.55" lengthAdjust="spacingAndGlyphs">&#8212;</text>
<text x="113.05" y="226.7" class="cap" textLength="67.95" lengthAdjust="spacingAndGlyphs">Transformer</text>
<text x="397.55" y="226.7" class="cap" textLength="67.95" lengthAdjust="spacingAndGlyphs">Transformer</text>
<text x="185.3" y="226.7" class="cap" textLength="24.75" lengthAdjust="spacingAndGlyphs">died</text>
<text x="469.8" y="226.7" class="cap" textLength="24.75" lengthAdjust="spacingAndGlyphs">died</text>
<text x="215" y="226.7" class="cap" textLength="32.7" lengthAdjust="spacingAndGlyphs">under</text>
<text x="499.5" y="226.7" class="cap" textLength="32.7" lengthAdjust="spacingAndGlyphs">under</text>
<text x="116.9" y="245.2" class="cap" textLength="32.95" lengthAdjust="spacingAndGlyphs">t3309.</text>
<text x="400.55" y="245.2" class="cap" textLength="32.65" lengthAdjust="spacingAndGlyphs">t3309.</text>
</svg>
</body></html>
